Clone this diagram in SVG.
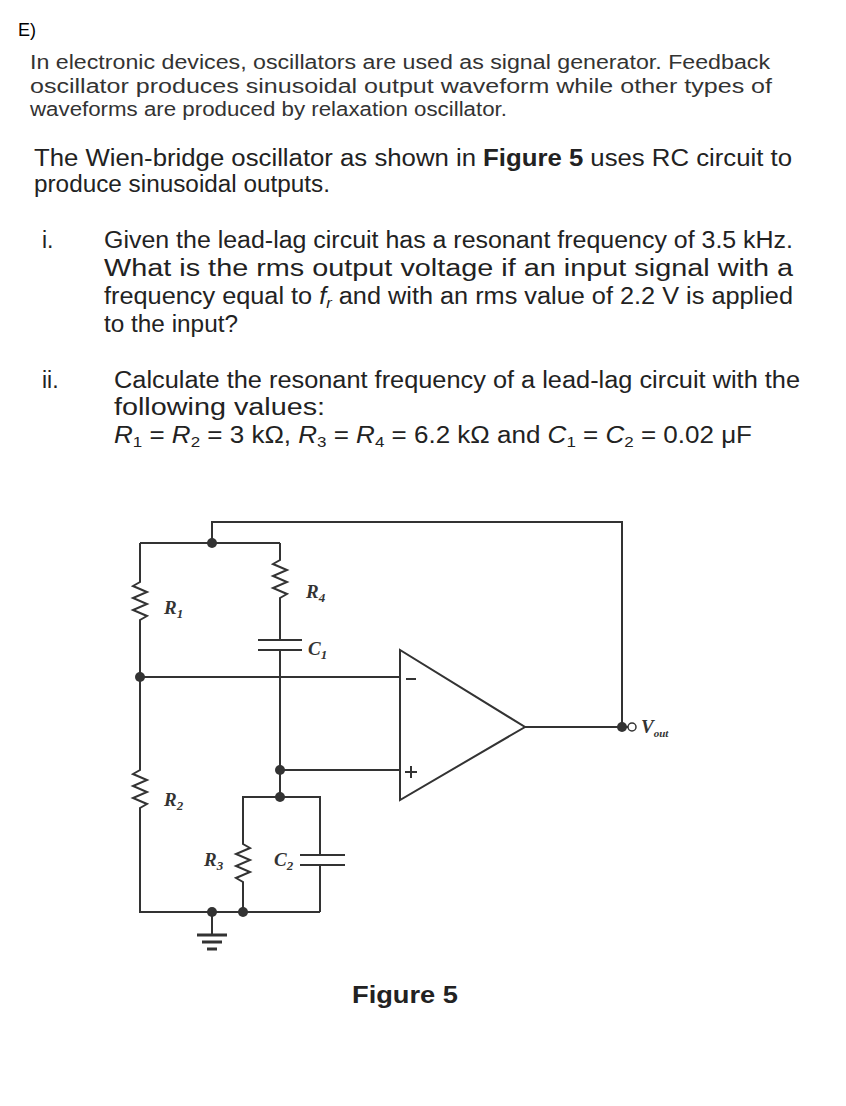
<svg xmlns="http://www.w3.org/2000/svg" width="846" height="1106" viewBox="0 0 846 1106">
<style>
.t{font-family:"Liberation Sans",Arial,sans-serif;font-size:23px;fill:#222}
.s{font-family:"Liberation Sans",Arial,sans-serif;font-size:20px;fill:#333}
.l{font-family:"Liberation Serif",serif;font-style:italic;font-weight:bold;font-size:19px;fill:#333}
.w{fill:none;stroke:#333;stroke-width:2}
.d{fill:#333}
</style>
<rect width="846" height="1106" fill="#fff"/>
<text x="18" y="36" style="font-family:'Liberation Sans',sans-serif;font-size:18px;fill:#000">E)</text>
<text x="30" y="69" class="s" textLength="740" lengthAdjust="spacingAndGlyphs">In electronic devices, oscillators are used as signal generator. Feedback</text>
<text x="30" y="93" class="s" textLength="742" lengthAdjust="spacingAndGlyphs">oscillator produces sinusoidal output waveform while other types of</text>
<text x="30" y="116" class="s" textLength="477" lengthAdjust="spacingAndGlyphs">waveforms are produced by relaxation oscillator.</text>
<text x="34" y="166" class="t" textLength="758" lengthAdjust="spacingAndGlyphs">The Wien-bridge oscillator as shown in <tspan font-weight="bold">Figure 5</tspan> uses RC circuit to</text>
<text x="34" y="192" class="t" textLength="296" lengthAdjust="spacingAndGlyphs">produce sinusoidal outputs.</text>
<text x="42" y="248" class="t">i.</text>
<text x="104" y="248" class="t" textLength="689" lengthAdjust="spacingAndGlyphs">Given the lead-lag circuit has a resonant frequency of 3.5 kHz.</text>
<text x="104" y="276" class="t" textLength="689" lengthAdjust="spacingAndGlyphs">What is the rms output voltage if an input signal with a</text>
<text x="104" y="304" class="t" textLength="689" lengthAdjust="spacingAndGlyphs">frequency equal to <tspan font-style="italic">f<tspan font-size="15" dy="4">r</tspan></tspan><tspan dy="-4"> and with an rms value of 2.2 V is applied</tspan></text>
<text x="104" y="332" class="t" textLength="134" lengthAdjust="spacingAndGlyphs">to the input?</text>
<text x="42" y="388" class="t">ii.</text>
<text x="114" y="388" class="t" textLength="686" lengthAdjust="spacingAndGlyphs">Calculate the resonant frequency of a lead-lag circuit with the</text>
<text x="114" y="415" class="t" textLength="211" lengthAdjust="spacingAndGlyphs">following values:</text>
<text x="114" y="443" class="t" textLength="638" lengthAdjust="spacingAndGlyphs"><tspan font-style="italic">R</tspan><tspan font-size="15" dy="4">1</tspan><tspan dy="-4"> = </tspan><tspan font-style="italic">R</tspan><tspan font-size="15" dy="4">2</tspan><tspan dy="-4"> = 3 kΩ, </tspan><tspan font-style="italic">R</tspan><tspan font-size="15" dy="4">3</tspan><tspan dy="-4"> = </tspan><tspan font-style="italic">R</tspan><tspan font-size="15" dy="4">4</tspan><tspan dy="-4"> = 6.2 kΩ and </tspan><tspan font-style="italic">C</tspan><tspan font-size="15" dy="4">1</tspan><tspan dy="-4"> = </tspan><tspan font-style="italic">C</tspan><tspan font-size="15" dy="4">2</tspan><tspan dy="-4"> = 0.02 μF</tspan></text>
<g id="connectors">
<path class="w" d="M212,543 V522 H622 V727"/>
<path class="w" d="M140,543 H280 M140,543 V582 l-7,4 14,6 -14,6 14,6 -14,6 14,6 -7,4 V770 l-7,4 14,6 -14,6 14,6 -14,6 14,6 -7,4 V912 H320"/>
<path class="w" d="M280,543 V560 l-7,4 14,6 -14,6 14,6 -14,6 14,6 -7,4 V640 M280,650 V797"/>
<path class="w" d="M140,677 H400 M280,770 H400 M525,727 H628"/>
<path class="w" d="M243,912 V882 l-7,-4 14,-6 -14,-6 14,-6 -14,-6 14,-6 -7,-4 V797 H320 V855 M320,865 V912"/>
<path class="w" d="M212,912 V935"/>
<path d="M197,935 h30 M202,942 h20 M207,949 h10" fill="none" stroke="#333" stroke-width="3"/>
</g>
<g id="C1"><path class="w" d="M258,640 h44 M258,650 h44"/><text x="308" y="655" class="l">C<tspan font-size="13" dy="4">1</tspan></text></g>
<g id="C2"><path class="w" d="M300,855 h45 M300,865 h45"/><text x="274" y="866" class="l">C<tspan font-size="13" dy="4">2</tspan></text></g>
<g id="R1"><text x="164" y="614" class="l">R<tspan font-size="13" dy="4">1</tspan></text></g>
<g id="R2"><text x="164" y="806" class="l">R<tspan font-size="13" dy="4">2</tspan></text></g>
<g id="R3"><text x="204" y="866" class="l">R<tspan font-size="13" dy="4">3</tspan></text></g>
<g id="R4"><text x="306" y="598" class="l">R<tspan font-size="13" dy="4">4</tspan></text></g>
<g id="opamp"><path class="w" d="M400,650 V800 L525,727 Z"/><path class="w" d="M406,679 h10 M405,772 h12 M411,766 v12"/></g>
<g id="nodes">
<circle class="d" cx="212" cy="543" r="5"/><circle class="d" cx="140" cy="677" r="5"/><circle class="d" cx="280" cy="770" r="5"/><circle class="d" cx="280" cy="797" r="5"/><circle class="d" cx="212" cy="912" r="5"/><circle class="d" cx="243" cy="912" r="5"/><circle class="d" cx="622" cy="727" r="5"/>
<circle cx="632" cy="727" r="4" fill="#fff" stroke="#333" stroke-width="1.5"/>
<text x="641" y="733" class="l" font-weight="normal" fill="#666">V<tspan font-size="11" dy="4">out</tspan></text>
</g>
<text x="352" y="1003" class="t" font-weight="bold" textLength="106" lengthAdjust="spacingAndGlyphs">Figure 5</text>
</svg>
